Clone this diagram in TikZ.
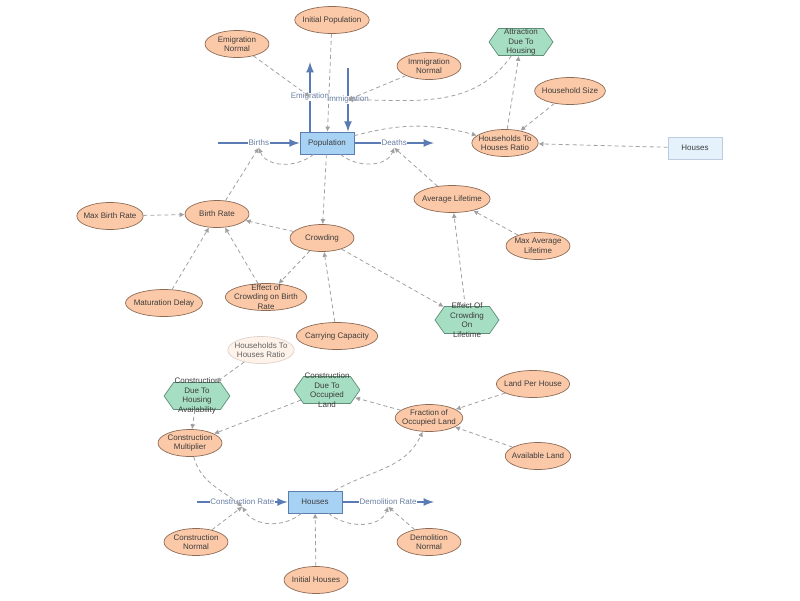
\documentclass[tikz,border=0pt]{standalone}
\usepackage{fontspec}
\setmainfont{Liberation Sans}
\usetikzlibrary{positioning,shapes,shapes.symbols,arrows,arrows.meta}
\definecolor{varfill}{HTML}{FCC9A8}
\definecolor{vardraw}{HTML}{8C6A55}
\definecolor{hexfill}{HTML}{A6DEC3}
\definecolor{hexdraw}{HTML}{5E8E76}
\definecolor{stockfill}{HTML}{A8D2F4}
\definecolor{stockdraw}{HTML}{5A7FAE}
\definecolor{flowcol}{HTML}{5B7BB4}
\definecolor{linkcol}{HTML}{A0A0A0}
\definecolor{txtcol}{HTML}{3C3C3C}
\definecolor{ratecol}{HTML}{6A80A6}

\begin{document}
\begin{tikzpicture}[
  x=1pt,y=-1pt,
  font=\fontsize{8}{9.5}\selectfont,
  myvar/.style={draw=vardraw,fill=varfill,ellipse,align=center,text=txtcol,minimum width=64pt,minimum height=27pt,inner xsep=-3pt,inner ysep=-1pt,line width=0.7pt},
  myghost/.style={myvar,draw=vardraw!30,fill=varfill!25,text=txtcol!80},
  myhex/.style={draw=hexdraw,fill=hexfill,signal,signal to=east and west,signal pointer angle=110,align=center,text=txtcol,minimum width=64pt,minimum height=27pt,inner xsep=1pt,inner ysep=-5pt,line width=0.7pt},
  mystock/.style={draw=stockdraw,fill=stockfill,rectangle,text=txtcol,minimum width=54pt,minimum height=22pt,line width=0.7pt},
  myflow/.style={draw=flowcol,line width=2.5pt,-latex},
  myrate/.style={fill=white,text=ratecol,inner sep=0.5pt},
  mylink/.style={draw=linkcol,dash pattern=on 4pt off 3pt,line width=0.8pt,-{Latex[length=5pt,width=5pt]}}
]
\useasboundingbox (0,0) rectangle (800,600);
% population part
\node[mystock] (Pop) at (327,143) {Population};
\node[myvar] (EmN) at (237,44) {Emigration\\Normal};
\node[myvar] (IniPop) at (332,20) {Initial Population};
\node[myvar] (ImN) at (429,66) {Immigration\\Normal};
\node[myhex] (Attr) at (521,42) {Attraction\\Due To\\Housing};
\node[myvar] (HSize) at (570,91) {Household Size};
\node[myvar] (HHR) at (505,143) {Households To\\Houses Ratio};
\node[mystock,draw=stockdraw!40,fill=stockfill!30] (HousesG) at (695,148) {Houses};
\node[myvar] (BR) at (217,214) {Birth Rate};
\node[myvar] (MaxBR) at (110,216) {Max Birth Rate};
\node[myvar] (Crowd) at (322,238) {Crowding};
\node[myvar] (AvgL) at (452,199) {Average Lifetime};
\node[myvar] (MaxAvgL) at (538,246) {Max Average\\Lifetime};
\node[myvar] (MatD) at (164,303) {Maturation Delay};
\node[myvar,inner ysep=-6pt] (ECBR) at (266,297) {Effect of\\Crowding on Birth\\Rate};
\node[myvar] (CarCap) at (337,336) {Carrying Capacity};
\node[myhex] (ECL) at (467,320) {Effect Of\\Crowding\\On\\Lifetime};
\coordinate (bsrc) at (218,143);
\coordinate (dsnk) at (434,143);
\coordinate (esnk) at (310,62);
\coordinate (isrc) at (348,68);
\draw[myflow] (bsrc) -- node[myrate] (Births) {Births} (Pop);
\draw[myflow] (Pop) -- node[myrate] (Deaths) {Deaths} (dsnk);
\draw[myflow] ([xshift=-17pt]Pop.north) -- node[myrate] (Emig) {Emigration} (esnk);
\draw[myflow] (isrc) -- node[myrate] (Immig) {Immigration} ([xshift=21pt]Pop.north);
% houses part
\node[mystock] (Houses) at (315,502) {Houses};
\node[myghost] (HHRG) at (261,350) {Households To\\Houses Ratio};
\node[myhex] (CDHA) at (197,396) {Construction\\Due To\\Housing\\Availability};
\node[myhex] (CDOL) at (327,390) {Construction\\Due To\\Occupied\\Land};
\node[myvar] (LPH) at (533,384) {Land Per House};
\node[myvar] (FOL) at (429,418) {Fraction of\\Occupied Land};
\node[myvar] (AvL) at (538,456) {Available Land};
\node[myvar] (CM) at (190,443) {Construction\\Multiplier};
\node[myvar] (CN) at (196,542) {Construction\\Normal};
\node[myvar] (DN) at (429,542) {Demolition\\Normal};
\node[myvar] (IniH) at (316,580) {Initial Houses};
\coordinate (csrc) at (197,502);
\coordinate (dmsnk) at (434,502);
\draw[myflow] (csrc) -- node[myrate] (ConsR) {Construction Rate} (Houses);
\draw[myflow] (Houses) -- node[myrate] (DemR) {Demolition Rate} (dmsnk);
% links
\path (EmN) edge[mylink] (Emig.center)
(IniPop) edge[mylink] (Pop)
(ImN) edge[mylink] (Immig.center)
(Attr) edge[mylink,out=-125,in=0] (Immig.center)
(HHR) edge[mylink] (Attr)
(HSize) edge[mylink] (HHR)
(HousesG) edge[mylink] (HHR)
(Pop) edge[mylink,out=15,in=165] (HHR)
(Pop) edge[mylink,out=-140,in=-70] (Births.south)
(Pop) edge[mylink,out=-40,in=-110] (Deaths.south)
(BR) edge[mylink] (Births.south)
(AvgL) edge[mylink] (Deaths.south)
(Pop) edge[mylink] (Crowd)
(MaxBR) edge[mylink] (BR)
(Crowd) edge[mylink] (BR)
(MatD) edge[mylink] (BR)
(ECBR) edge[mylink] (BR)
(Crowd) edge[mylink] (ECBR)
(CarCap) edge[mylink] (Crowd)
(Crowd) edge[mylink] (ECL)
(ECL) edge[mylink] (AvgL)
(MaxAvgL) edge[mylink] (AvgL)
(HHRG) edge[mylink] (CDHA)
(CDHA) edge[mylink] (CM)
(CDOL) edge[mylink] (CM)
(FOL) edge[mylink] (CDOL)
(LPH) edge[mylink] (FOL)
(AvL) edge[mylink] (FOL)
(Houses) edge[mylink,out=30,in=-115] (FOL)
(CM) edge[mylink,out=-75,in=140] (ConsR.south)
(Houses) edge[mylink,out=-140,in=-60] (ConsR.south)
(CN) edge[mylink] (ConsR.south)
(Houses) edge[mylink,out=-40,in=-110] (DemR.south)
(DN) edge[mylink] (DemR.south)
(IniH) edge[mylink] (Houses);
\end{tikzpicture}
\end{document}
